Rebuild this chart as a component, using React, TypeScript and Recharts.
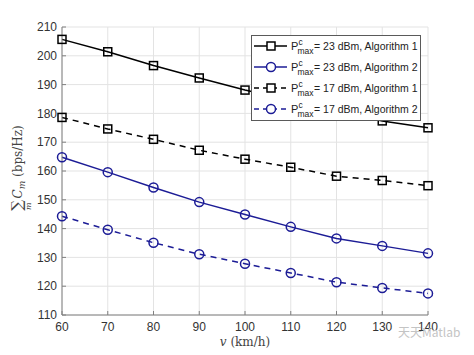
import React from 'react';
import { LineChart, Line, XAxis, YAxis, CartesianGrid, Label } from 'recharts';

const speeds = [60, 70, 80, 90, 100, 110, 120, 130, 140];
const alg1P23 = [205.7, 201.4, 196.6, 192.3, 188.1, 184.5, 180.9, 177.4, 175.0];
const alg2P23 = [164.8, 159.6, 154.3, 149.2, 144.9, 140.6, 136.6, 134.0, 131.4];
const alg1P17 = [178.6, 174.6, 171.0, 167.2, 164.1, 161.3, 158.2, 156.7, 154.9];
const alg2P17 = [144.3, 139.6, 135.1, 131.1, 127.8, 124.6, 121.4, 119.4, 117.5];
const xTicks = [60, 70, 80, 90, 100, 110, 120, 130, 140];
const yTicks = [110, 120, 130, 140, 150, 160, 170, 180, 190, 200, 210];

const data = speeds.map((v, i) => ({
  v,
  a1p23: alg1P23[i],
  a2p23: alg2P23[i],
  a1p17: alg1P17[i],
  a2p17: alg2P17[i],
}));

const BLACK = '#000000';
const BLUE = '#1c1c96';
const AXIS = '#808080';
const TICK_TEXT = '#333333';

const squareDot = (color: string) => (props: any) => {
  const { cx, cy, index } = props;
  if (cx == null || cy == null) return <g key={index} />;
  return (
    <rect key={index} x={cx - 4} y={cy - 4} width={8} height={8} fill="none" stroke={color} strokeWidth={1.5} />
  );
};

const circleDot = (color: string) => (props: any) => {
  const { cx, cy, index } = props;
  if (cx == null || cy == null) return <g key={index} />;
  return <circle key={index} cx={cx} cy={cy} r={4.5} fill="none" stroke={color} strokeWidth={1.5} />;
};

const legendItems = [
  { color: BLACK, dash: undefined, marker: 'square', power: '23', alg: '1' },
  { color: BLUE, dash: undefined, marker: 'circle', power: '23', alg: '2' },
  { color: BLACK, dash: '5 4', marker: 'square', power: '17', alg: '1' },
  { color: BLUE, dash: '5 4', marker: 'circle', power: '17', alg: '2' },
];

const LegendBox = () => (
  <svg width={170} height={86} style={{ display: 'block' }}>
    <rect x={0.5} y={0.5} width={169} height={85} fill="#ffffff" stroke="#5a5a5a" strokeWidth={1} />
    {legendItems.map((it, i) => {
      const y = 11 + i * 21;
      return (
        <g key={i} fontFamily="Liberation Sans, Arial, sans-serif" fill="#222">
          <line x1={3} x2={36} y1={y} y2={y} stroke={it.color} strokeWidth={1.5} strokeDasharray={it.dash} />
          {it.marker === 'square' ? (
            <rect x={16} y={y - 4} width={8} height={8} fill="#fff" stroke={it.color} strokeWidth={1.5} />
          ) : (
            <circle cx={20} cy={y} r={4.5} fill="#fff" stroke={it.color} strokeWidth={1.5} />
          )}
          <text x={40} y={y + 4} fontSize={11}>P</text>
          <text x={47.5} y={y - 1} fontSize={8.5}>c</text>
          <text x={46.5} y={y + 8} fontSize={8.5}>max</text>
          <text x={63} y={y + 4} fontSize={10.5}>{`= ${it.power} dBm, Algorithm ${it.alg}`}</text>
        </g>
      );
    })}
  </svg>
);

const YLabel = () => (
  <text
    transform="translate(22,168) rotate(-90)"
    textAnchor="middle"
    fontFamily="DejaVu Serif, Liberation Serif, serif"
    fontSize={12}
    fill="#444"
  >
    <tspan fontSize={15}>∑</tspan>
    <tspan fontSize={8} fontStyle="italic" dx={-10} dy={9}>m</tspan>
    <tspan fontStyle="italic" dx={4} dy={-9}>C</tspan>
    <tspan fontSize={9} fontStyle="italic" dy={3}>m</tspan>
    <tspan dy={-3}> (bps/Hz)</tspan>
  </text>
);

const XLabel = () => (
  <text x={245} y={346} textAnchor="middle" fontFamily="DejaVu Serif, Liberation Serif, serif" fontSize={12} fill="#444">
    <tspan fontStyle="italic">v</tspan>
    <tspan> (km/h)</tspan>
  </text>
);

export default function App() {
  return (
    <div style={{ position: 'absolute', left: 0, top: 0, width: 474, height: 355, background: '#fff' }}>
      <LineChart width={474} height={355} data={data} margin={{ top: 27, right: 46, bottom: 0, left: 0 }}>
        <CartesianGrid xAxisId="b" yAxisId="l" stroke="#e3e3e3" strokeWidth={1} horizontal vertical />
        <XAxis
          xAxisId="b"
          dataKey="v"
          type="number"
          domain={[60, 140]}
          ticks={xTicks}
          height={40}
          stroke={AXIS}
          tickSize={-4}
          tickMargin={11}
          tick={{ fill: TICK_TEXT, fontSize: 12, fontFamily: 'Liberation Sans, Arial, sans-serif' }}
        >
          <Label content={() => <XLabel />} />
        </XAxis>
        <XAxis
          xAxisId="t"
          orientation="top"
          dataKey="v"
          type="number"
          domain={[60, 140]}
          ticks={xTicks}
          height={0}
          stroke={AXIS}
          tickSize={-4}
          tickFormatter={() => ''}
        />
        <YAxis
          yAxisId="l"
          type="number"
          domain={[110, 210]}
          ticks={yTicks}
          width={62}
          stroke={AXIS}
          tickSize={-4}
          tickMargin={9}
          tick={{ fill: TICK_TEXT, fontSize: 12, fontFamily: 'Liberation Sans, Arial, sans-serif' }}
        >
          <Label content={() => <YLabel />} />
        </YAxis>
        <YAxis
          yAxisId="r"
          orientation="right"
          type="number"
          domain={[110, 210]}
          ticks={yTicks}
          width={0}
          stroke={AXIS}
          tickSize={-4}
          tickFormatter={() => ''}
        />
        <Line xAxisId="b" yAxisId="l" dataKey="a1p23" stroke={BLACK} strokeWidth={1.5} dot={squareDot(BLACK)} isAnimationActive={false} />
        <Line xAxisId="b" yAxisId="l" dataKey="a2p23" stroke={BLUE} strokeWidth={1.5} dot={circleDot(BLUE)} isAnimationActive={false} />
        <Line xAxisId="b" yAxisId="l" dataKey="a1p17" stroke={BLACK} strokeWidth={1.5} strokeDasharray="6 5" dot={squareDot(BLACK)} isAnimationActive={false} />
        <Line xAxisId="b" yAxisId="l" dataKey="a2p17" stroke={BLUE} strokeWidth={1.5} strokeDasharray="6 5" dot={circleDot(BLUE)} isAnimationActive={false} />
      </LineChart>
      <div style={{ position: 'absolute', left: 251, top: 35 }}>
        <LegendBox />
      </div>
      <div
        style={{
          position: 'absolute',
          left: 398,
          top: 324,
          fontFamily: 'Noto Sans CJK SC, sans-serif',
          fontSize: 12,
          lineHeight: '16px',
          color: '#c4c4c4',
        }}
      >
        天天Matlab
      </div>
    </div>
  );
}
